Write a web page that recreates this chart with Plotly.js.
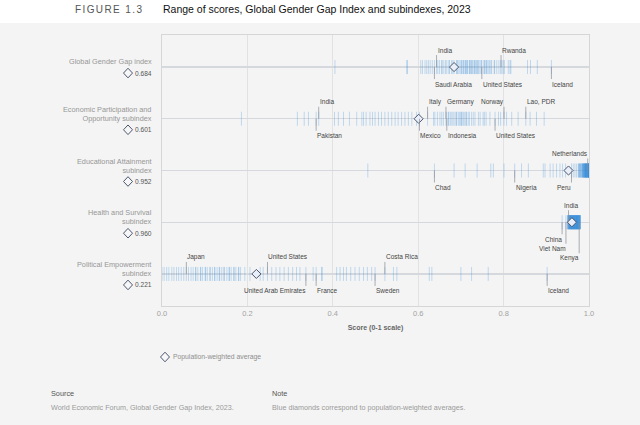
<!DOCTYPE html>
<html>
<head>
<meta charset="utf-8">
<script src="https://cdn.plot.ly/plotly-3.0.1.min.js"></script>
<style>
  html, body { margin: 0; padding: 0; background: #f4f4f4; }
  #chart { width: 640px; height: 425px; }
</style>
</head>
<body>
<div id="chart"></div>
<script>
// rows, bottom to top on the chart (index 4 = top)
const rowNames = [
    'Political Empowerment<br>subindex',
    'Health and Survival<br>subindex',
    'Educational Attainment<br>subindex',
    'Economic Participation and<br>Opportunity subindex',
    'Global Gender Gap index'
];
const rowAverages = [0.221, 0.960, 0.952, 0.601, 0.684];

// country scores, one tick each
const politicalScores = [0.000, 0.005, 0.011, 0.016, 0.023, 0.028, 0.034, 0.039, 0.045, 0.051, 0.057, 0.062,
    0.068, 0.073, 0.079, 0.079, 0.084, 0.090, 0.091, 0.095, 0.101, 0.102, 0.106, 0.112, 0.113, 0.118, 0.123,
    0.124, 0.129, 0.134, 0.135, 0.140, 0.145, 0.146, 0.152, 0.157, 0.158, 0.162, 0.168, 0.169, 0.173, 0.179,
    0.180, 0.184, 0.194, 0.206, 0.230, 0.237, 0.247, 0.257, 0.267, 0.276, 0.286, 0.296, 0.306, 0.315, 0.323,
    0.337, 0.354, 0.361, 0.374, 0.375, 0.409, 0.417, 0.425, 0.432, 0.442, 0.452, 0.462, 0.472, 0.481, 0.491,
    0.499, 0.522, 0.542, 0.550, 0.626, 0.632, 0.700, 0.725, 0.764, 0.902];
const healthScores = [0.937, 0.946, 0.950, 0.950, 0.951, 0.951, 0.952, 0.952, 0.953, 0.953, 0.954, 0.954,
    0.954, 0.955, 0.955, 0.955, 0.956, 0.956, 0.956, 0.957, 0.957, 0.957, 0.958, 0.958, 0.958, 0.959, 0.959,
    0.959, 0.960, 0.960, 0.960, 0.961, 0.961, 0.961, 0.962, 0.962, 0.962, 0.963, 0.963, 0.963, 0.964, 0.964,
    0.964, 0.965, 0.965, 0.965, 0.966, 0.966, 0.966, 0.967, 0.967, 0.967, 0.968, 0.968, 0.968, 0.969, 0.969,
    0.969, 0.970, 0.970, 0.970, 0.970, 0.971, 0.971, 0.971, 0.972, 0.972, 0.972, 0.973, 0.973, 0.973, 0.974,
    0.974, 0.974, 0.975, 0.975, 0.975, 0.976, 0.976, 0.976, 0.977, 0.977, 0.977, 0.978, 0.978, 0.978, 0.979,
    0.979, 0.980, 0.980];
const educationScores = [0.482, 0.638, 0.684, 0.710, 0.738, 0.770, 0.776, 0.801, 0.826, 0.842, 0.858, 0.893,
    0.897, 0.909, 0.916, 0.924, 0.932, 0.938, 0.945, 0.959, 0.963, 0.967, 0.971, 0.975, 0.976, 0.977, 0.978,
    0.979, 0.980, 0.981, 0.982, 0.983, 0.984, 0.985, 0.985, 0.986, 0.986, 0.987, 0.987, 0.988, 0.988, 0.989,
    0.989, 0.990, 0.990, 0.990, 0.991, 0.991, 0.991, 0.992, 0.992, 0.992, 0.993, 0.993, 0.993, 0.994, 0.994,
    0.994, 0.995, 0.995, 0.995, 0.996, 0.996, 0.996, 0.997, 0.997, 0.997, 0.998, 0.998, 0.998, 0.999, 0.999,
    0.999, 1.000, 1.000, 1.000, 1.000, 1.000, 1.000, 1.000, 1.000, 1.000, 1.000];
const economicScores = [0.186, 0.317, 0.333, 0.343, 0.361, 0.367, 0.404, 0.413, 0.425, 0.439, 0.456, 0.468,
    0.472, 0.478, 0.487, 0.493, 0.499, 0.507, 0.514, 0.522, 0.530, 0.538, 0.546, 0.553, 0.561, 0.569, 0.577,
    0.585, 0.596, 0.603, 0.622, 0.636, 0.639, 0.645, 0.651, 0.655, 0.659, 0.665, 0.667, 0.671, 0.672, 0.676,
    0.679, 0.682, 0.686, 0.689, 0.690, 0.694, 0.697, 0.700, 0.701, 0.703, 0.706, 0.709, 0.712, 0.713, 0.717,
    0.720, 0.725, 0.729, 0.733, 0.741, 0.745, 0.752, 0.755, 0.759, 0.768, 0.780, 0.788, 0.793, 0.801, 0.807,
    0.819, 0.834, 0.852, 0.862, 0.877, 0.895];
const overallScores = [0.405, 0.573, 0.575, 0.606, 0.610, 0.616, 0.620, 0.624, 0.628, 0.633, 0.638, 0.643,
    0.646, 0.650, 0.655, 0.656, 0.660, 0.664, 0.667, 0.672, 0.673, 0.678, 0.681, 0.684, 0.690, 0.691, 0.693,
    0.696, 0.700, 0.701, 0.703, 0.706, 0.707, 0.710, 0.711, 0.713, 0.715, 0.716, 0.720, 0.721, 0.722, 0.725,
    0.726, 0.728, 0.731, 0.732, 0.734, 0.737, 0.738, 0.740, 0.742, 0.745, 0.748, 0.749, 0.754, 0.755, 0.757,
    0.760, 0.761, 0.764, 0.767, 0.770, 0.772, 0.778, 0.779, 0.784, 0.789, 0.793, 0.796, 0.799, 0.802, 0.811,
    0.815, 0.817, 0.856, 0.863, 0.879, 0.912];
const rowScores = [politicalScores, healthScores, educationScores, economicScores, overallScores];

// named countries
const labelRow = [4, 4, 4, 4, 4, 3, 3, 3, 3, 3, 3, 3, 3, 3, 2, 2, 2, 2, 1, 1, 1, 1, 0, 0, 0, 0, 0, 0, 0];
const labelName = ['India', 'Rwanda', 'Saudi Arabia', 'United States', 'Iceland',
    'India', 'Italy', 'Germany', 'Norway', 'Lao, PDR', 'Pakistan', 'Mexico', 'Indonesia', 'United States',
    'Netherlands', 'Chad', 'Nigeria', 'Peru',
    'India', 'China', 'Viet Nam', 'Kenya',
    'Japan', 'United States', 'Costa Rica', 'United Arab Emirates', 'France', 'Sweden', 'Iceland'];
const labelScore = [0.643, 0.794, 0.638, 0.749, 0.912,
    0.367, 0.622, 0.665, 0.801, 0.852, 0.361, 0.603, 0.667, 0.780,
    0.997, 0.638, 0.826, 0.959,
    0.952, 0.937, 0.946, 0.977,
    0.057, 0.247, 0.522, 0.337, 0.361, 0.499, 0.902];

// label placement: side (1 above, -1 below), text anchor, stack level
const labelSide = [1, 1, -1, -1, -1, 1, 1, 1, 1, 1, -1, -1, -1, -1, 1, -1, -1, -1, 1, -1, -1, -1, 1, 1, 1, -1, -1, -1, -1];
const labelAnchor = ['left', 'left', 'left', 'left', 'left',
    'left', 'left', 'left', 'right', 'left', 'left', 'left', 'left', 'left',
    'right', 'left', 'left', 'right',
    'center', 'right', 'right', 'right',
    'left', 'left', 'left', 'right', 'left', 'left', 'left'];
const labelLevel = [0, 0, 0, 0, 0, 0, 0, 0, 0, 0, 0, 0, 0, 0, 0, 0, 0, 0, 0, 0, 1, 2, 0, 0, 0, 0, 0, 0, 0];

const FONT = 'Liberation Sans, Arial, Helvetica, sans-serif';
const TEXT_DARK = '#444444';
const LEADER = '#8a8e96';

let traces = [];
rowScores.forEach(function (scores, r) {
    traces.push({
        type: 'scatter',
        mode: 'markers',
        x: scores,
        y: scores.map(() => r),
        hoverinfo: 'x',
        showlegend: false,
        marker: {symbol: 'line-ns-open', size: 10, color: 'rgba(50,140,220,0.28)', line: {width: 1}}
    });
});
traces.push({
    type: 'scatter',
    mode: 'markers',
    x: rowAverages,
    y: rowAverages.map((v, i) => i),
    hoverinfo: 'x',
    showlegend: false,
    marker: {symbol: 'diamond', size: 7, color: '#e9eff8', line: {color: '#4b566f', width: 1}}
});

let shapes = [];
let annotations = [];

// white header band
shapes.push({type: 'rect', xref: 'paper', yref: 'paper', x0: -0.5, x1: 1.5, y0: 1.0443, y1: 1.2,
    fillcolor: '#ffffff', line: {width: 0}, layer: 'below'});

// leader lines and country names
labelName.forEach(function (name, i) {
    const side = labelSide[i];
    const lvl = labelLevel[i];
    shapes.push({
        type: 'line', xref: 'x', yref: 'y', ysizemode: 'pixel', yanchor: labelRow[i],
        x0: labelScore[i], x1: labelScore[i], y0: 0, y1: side * (12 + lvl * 9.5),
        line: {color: LEADER, width: 0.7}
    });
    const anc = labelAnchor[i];
    annotations.push({
        x: labelScore[i], y: labelRow[i], xref: 'x', yref: 'y',
        text: name, showarrow: false,
        xanchor: anc, yanchor: 'middle',
        xshift: anc === 'left' ? -1 : 2,
        yshift: side * (17 + lvl * 9.5),
        font: {family: FONT, size: 6.5, color: TEXT_DARK}
    });
});

// row names with average on the left
rowNames.forEach(function (name, r) {
    const twoLine = name.indexOf('<br>') > -1;
    annotations.push({
        x: 0, y: r, xref: 'paper', yref: 'y', xanchor: 'right', yanchor: 'middle', align: 'right',
        xshift: -8, yshift: twoLine ? 5 : 6,
        text: name, showarrow: false,
        font: {family: FONT, size: 7.3, color: '#979797'}
    });
    const dy = twoLine ? 11 : 6;
    annotations.push({
        x: 0, y: r, xref: 'paper', yref: 'y', xanchor: 'right', yanchor: 'middle',
        xshift: -8, yshift: -dy,
        text: rowAverages[r].toFixed(3), showarrow: false,
        font: {family: FONT, size: 6.6, color: '#555555'}
    });
    shapes.push({
        type: 'path', xref: 'paper', yref: 'y', xsizemode: 'pixel', ysizemode: 'pixel',
        xanchor: 0, yanchor: r,
        path: 'M -34,' + (-dy + 4.8) + ' L -29.5,' + (-dy) + ' L -34,' + (-dy - 4.8) + ' L -38.5,' + (-dy) + ' Z',
        fillcolor: '#f7f7f7', line: {color: '#4b566f', width: 1}
    });
});

// legend
shapes.push({
    type: 'path', xref: 'paper', yref: 'paper', xsizemode: 'pixel', ysizemode: 'pixel',
    xanchor: 0, yanchor: 0,
    path: 'M 3,-46.2 L 7.5,-51 L 3,-55.8 L -1.5,-51 Z',
    fillcolor: '#f7f7f7', line: {color: '#4b566f', width: 1}
});
annotations.push({x: 0, y: 0, xref: 'paper', yref: 'paper', xanchor: 'left', yanchor: 'middle',
    xshift: 9, yshift: -51, text: 'Population-weighted average', showarrow: false,
    font: {family: FONT, size: 6.8, color: '#8e8e8e'}});

// header
annotations.push({x: 0, y: 1, xref: 'paper', yref: 'paper', xanchor: 'left', yanchor: 'middle', align: 'left',
    xshift: -89, yshift: 26, text: 'FIGURE 1.3', showarrow: false,
    font: {family: FONT, size: 10, color: '#555555'}});
annotations.push({x: 0, y: 1, xref: 'paper', yref: 'paper', xanchor: 'left', yanchor: 'middle',
    xshift: -1, yshift: 26, text: 'Range of scores, Global Gender Gap Index and subindexes, 2023', showarrow: false,
    font: {family: FONT, size: 10.5, color: '#111111'}});

// footer
annotations.push({x: 0, y: 0, xref: 'paper', yref: 'paper', xanchor: 'left', yanchor: 'middle',
    xshift: -113, yshift: -87, text: 'Source', showarrow: false,
    font: {family: FONT, size: 7.3, color: '#555555'}});
annotations.push({x: 0, y: 0, xref: 'paper', yref: 'paper', xanchor: 'left', yanchor: 'middle',
    xshift: -113, yshift: -101, text: 'World Economic Forum, Global Gender Gap Index, 2023.', showarrow: false,
    font: {family: FONT, size: 7.2, color: '#9a9a9a'}});
annotations.push({x: 0, y: 0, xref: 'paper', yref: 'paper', xanchor: 'left', yanchor: 'middle',
    xshift: 108, yshift: -87, text: 'Note', showarrow: false,
    font: {family: FONT, size: 7.3, color: '#555555'}});
annotations.push({x: 0, y: 0, xref: 'paper', yref: 'paper', xanchor: 'left', yanchor: 'middle',
    xshift: 108, yshift: -101, text: 'Blue diamonds correspond to population-weighted averages.', showarrow: false,
    font: {family: FONT, size: 7.2, color: '#9a9a9a'}});

const layout = {
    width: 640,
    height: 425,
    margin: {l: 162, r: 51, t: 35, b: 119, pad: 0},
    paper_bgcolor: '#f4f4f4',
    plot_bgcolor: '#f4f4f4',
    font: {family: FONT},
    showlegend: false,
    xaxis: {
        range: [0, 1],
        tickvals: [0, 0.2, 0.4, 0.6, 0.8, 1],
        ticktext: ['0.0', '0.2', '0.4', '0.6', '0.8', '1.0'],
        ticks: '',
        tickfont: {family: FONT, size: 7.5, color: '#a3a3a3'},
        showgrid: true, gridcolor: '#e2e2e2', gridwidth: 1,
        showline: true, mirror: true, linecolor: '#d6d6d6', linewidth: 1,
        zeroline: false,
        title: {text: 'Score (0-1 scale)', font: {family: FONT, size: 7, color: '#666666', weight: 'bold'}, standoff: 8},
        fixedrange: true
    },
    yaxis: {
        range: [-0.62, 4.62],
        tickvals: [0, 1, 2, 3, 4],
        showticklabels: false,
        ticks: '',
        showgrid: true, gridcolor: '#d5d8dd', gridwidth: 1.3,
        showline: true, mirror: true, linecolor: '#d6d6d6', linewidth: 1,
        zeroline: false,
        fixedrange: true
    },
    shapes: shapes,
    annotations: annotations
};

Plotly.newPlot('chart', traces, layout, {displayModeBar: false, staticPlot: true}).then(function () {
    document.querySelectorAll('.annotation-text').forEach(function (t) {
        if (t.textContent === 'FIGURE 1.3') t.setAttribute('letter-spacing', '1.4px');
    });
});
</script>
</body>
</html>
